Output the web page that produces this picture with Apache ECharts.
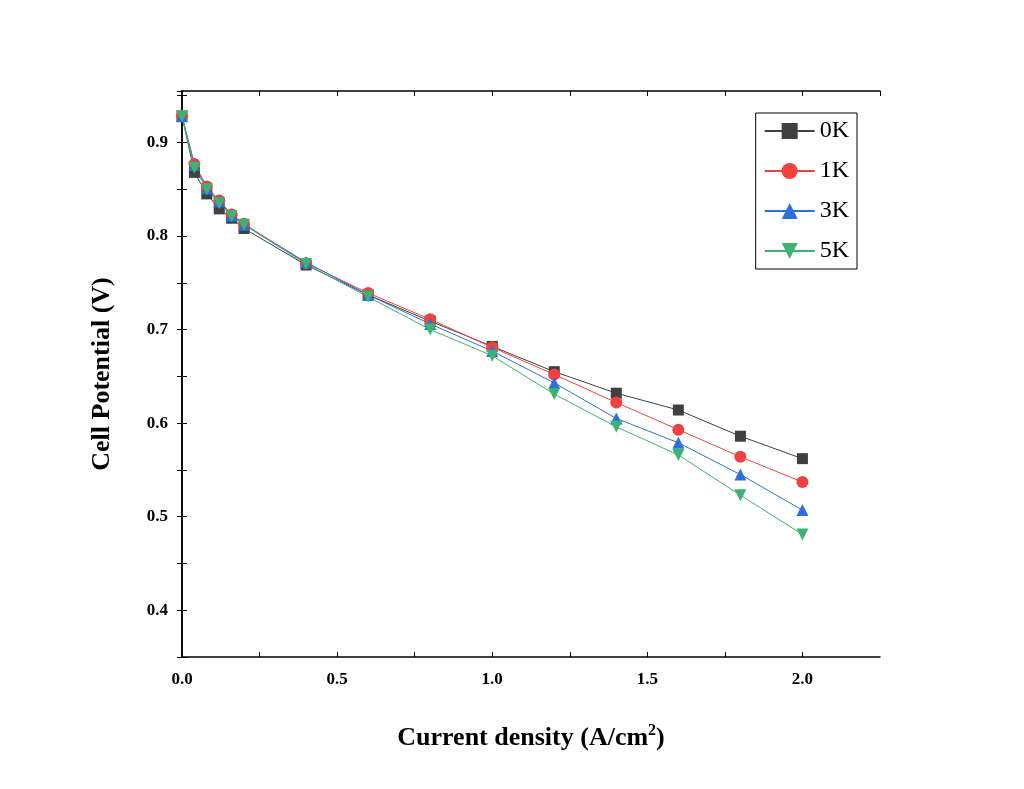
<!DOCTYPE html>
<html><head><meta charset="utf-8">
<script src="https://cdn.jsdelivr.net/npm/echarts@6/dist/echarts.min.js"></script>
<style>html,body{margin:0;padding:0;background:#fff}#c{width:1024px;height:789px}</style>
</head><body><div id="c"></div>
<script>
const xVals = [0, 0.04, 0.08, 0.12, 0.16, 0.2, 0.4, 0.6, 0.8, 1.0, 1.2, 1.4, 1.6, 1.8, 2.0];
const s0K = [0.928, 0.868, 0.845, 0.829, 0.819, 0.808, 0.769, 0.737, 0.709, 0.682, 0.655, 0.632, 0.614, 0.586, 0.562];
const s1K = [0.928, 0.877, 0.853, 0.838, 0.823, 0.813, 0.771, 0.739, 0.711, 0.681, 0.652, 0.622, 0.593, 0.564, 0.537];
const s3K = [0.928, 0.876, 0.851, 0.837, 0.822, 0.812, 0.772, 0.737, 0.706, 0.677, 0.643, 0.605, 0.579, 0.545, 0.507];
const s5K = [0.928, 0.873, 0.850, 0.835, 0.821, 0.812, 0.770, 0.735, 0.700, 0.672, 0.631, 0.596, 0.566, 0.523, 0.481];
const names = ['0K','1K','3K','5K'];
const colors = ['#404040','#f04040','#2b6fe0','#3cb371'];
const symbols = ['rect','circle','triangle','path://M0,0 L10,0 L5,10 Z'];
const all = [s0K,s1K,s3K,s5K];
const F = 'Liberation Serif';
const near = (v,s)=>Math.abs(v/s-Math.round(v/s))<1e-6;
const ax = {axisLine:{show:true,lineStyle:{color:'#000',width:1.5}},axisTick:{inside:true,length:5,lineStyle:{color:'#000'}},splitLine:{show:false}};
const chart = echarts.init(document.getElementById('c'));
chart.setOption({
  animation:false,
  grid:{left:182,right:144,top:91,bottom:132},
  legend:{right:167,top:113,orient:'vertical',borderColor:'#000',borderWidth:1,borderRadius:0,padding:[6,8,6,8],itemGap:16,itemWidth:50,itemHeight:20,textStyle:{fontFamily:F,fontSize:24,color:'#000'},data:names},
  xAxis:[Object.assign({type:'value',min:0,max:2.25,interval:0.25,name:'Current density (A/cm{s|2})',nameLocation:'middle',nameGap:66,
    nameTextStyle:{fontFamily:F,fontSize:26,fontWeight:'bold',color:'#000',rich:{s:{fontFamily:F,fontSize:16,fontWeight:'bold',verticalAlign:'top',padding:[0,0,14,0]}}},
    axisLabel:{fontFamily:F,fontSize:17,fontWeight:'bold',color:'#000',margin:14,showMaxLabel:false,formatter:v=>near(v,0.5)?v.toFixed(1):''}},ax),
    Object.assign({type:'value',position:'top',min:0,max:2.25,interval:0.25,axisLabel:{show:false}},ax)],
  yAxis:[Object.assign({type:'value',min:0.35,max:0.955,interval:0.05,name:'Cell Potential (V)',nameLocation:'middle',nameGap:67,
    nameTextStyle:{fontFamily:F,fontSize:26,fontWeight:'bold',color:'#000'},
    axisLabel:{fontFamily:F,fontSize:17,fontWeight:'bold',color:'#000',margin:14,showMaxLabel:false,formatter:v=>near(v,0.1)?v.toFixed(1):''}},ax),
    Object.assign({type:'value',position:'right',min:0.35,max:0.955,interval:0.05,axisLabel:{show:false}},ax)],
  series: all.map((d,i)=>({name:names[i],type:'line',data:xVals.map((x,j)=>[x,d[j]]),symbol:symbols[i],symbolSize:i==0?11:12,
    itemStyle:{color:colors[i]},lineStyle:{width:1,color:colors[i]}}))
});
</script></body></html>
